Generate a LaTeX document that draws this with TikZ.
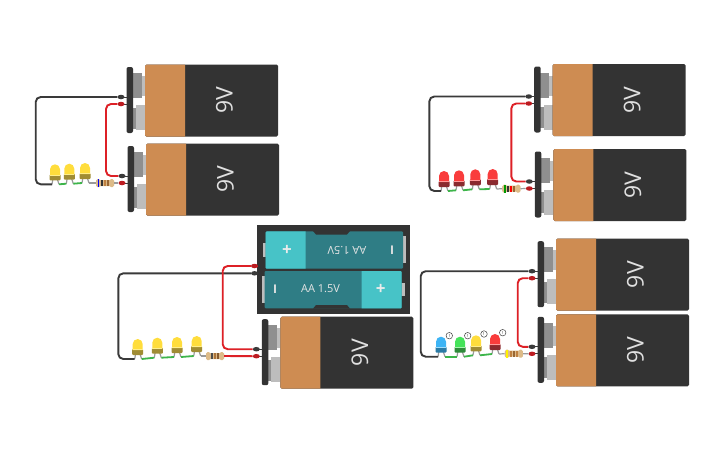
\documentclass[tikz,border=0pt]{standalone}
\usepackage{fontspec}
\setmainfont{Open Sans}
\usetikzlibrary{shapes.geometric}
\definecolor{batdark}{HTML}{333333}
\definecolor{batorange}{HTML}{CE8C52}
\definecolor{termdark}{HTML}{8F8F8F}
\definecolor{termlight}{HTML}{BDBDBD}
\definecolor{wireblack}{HTML}{3A3A3A}
\definecolor{wirered}{HTML}{DD2026}
\definecolor{wiregreen}{HTML}{3DB54A}
\definecolor{tealdark}{HTML}{2F7D85}
\definecolor{teallight}{HTML}{47C3C7}
\definecolor{restan}{HTML}{DDBB88}
\definecolor{legc}{HTML}{9A9A9A}
\definecolor{ylw}{HTML}{FFDD3C}
\definecolor{ylwh}{HTML}{FFEE8A}
\definecolor{ylwb}{HTML}{A08C34}
\definecolor{rd}{HTML}{F93C3C}
\definecolor{rdh}{HTML}{FF9A9A}
\definecolor{rdb}{HTML}{8A2A2F}
\definecolor{blu}{HTML}{3DB4F5}
\definecolor{bluh}{HTML}{A0DDFA}
\definecolor{blub}{HTML}{2A7BA5}
\definecolor{grn}{HTML}{45E35A}
\definecolor{grnh}{HTML}{A5F5AF}
\definecolor{grnb}{HTML}{2E8B3A}
\tikzset{
  wb/.style={draw=wireblack,line width=1.9pt,rounded corners=5pt},
  wr/.style={draw=wirered,line width=1.9pt,rounded corners=5pt},
  wg/.style={draw=wiregreen,line width=1.8pt},
  lead/.style={draw=legc,line width=1.2pt},
  pin/.style={ellipse,inner sep=0pt,minimum width=7pt,minimum height=4.5pt},
  nine/.style={rotate=90,text=white!88!black,font=\fontsize{23}{23}\selectfont,inner sep=0pt},
  aa/.style={text=white!90!black,font=\fontsize{11}{11}\selectfont,inner sep=0pt},
  bar/.style={text=white!90!black,font=\bfseries\fontsize{12}{12}\selectfont,inner sep=0pt},
  sgn/.style={text=white!92!black,font=\bfseries\fontsize{17}{17}\selectfont,inner sep=0pt},
  info/.style={circle,draw=black!75,fill=white,line width=0.5pt,minimum size=6.5pt,inner sep=0pt,font=\fontsize{4}{4}\selectfont},
  resb/.style={rectangle,rounded corners=1pt,fill=restan,minimum width=18pt,minimum height=6pt,inner sep=0pt}
}
% name, x, y of body's top-left
\newcommand{\nvbat}[3]{%
 \begin{scope}[shift={(#2,#3)}]
  \fill[termdark] (-13,8.5) rectangle (-3.5,33.5);
  \fill[termlight] (-3.5,11.5) rectangle (0,31.5);
  \fill[termdark] (-13,43) rectangle (-8,64);
  \fill[termlight] (-9,40.5) rectangle (0,65.5);
  \fill[batdark,rounded corners=1.5pt] (0,0) rectangle (133,72);
  \begin{scope}
   \clip (0,0) rectangle (40,72);
   \fill[batorange,rounded corners=1.5pt] (0,0) rectangle (133,72);
  \end{scope}
  \fill[batdark,rounded corners=2pt] (-18.5,2.5) rectangle (-12,68.5);
  \node[nine] (#1t) at (79.5,36) {9V};
  \draw[wireblack,line width=1pt] (-24,32.5) -- (-18,32.5);
  \draw[wireblack,line width=1pt] (-24,39.5) -- (-18,39.5);
  \node[pin,fill=wireblack] (#1n) at (-24,32.5) {};
  \node[pin,fill=wirered!85!black] (#1p) at (-24,39.5) {};
 \end{scope}}
% name, cx, top, dome colour, highlight, base colour
\newcommand{\ledm}[6]{%
 \begin{scope}[shift={(#2,#3)}]
  \coordinate (#1a) at (-3,20);
  \coordinate (#1c) at (4,20);
  \draw[lead] (-2,14) -- (#1a);
  \draw[lead] (2,14) -- (#1c);
  \fill[#6,rounded corners=1pt] (-5.5,10) rectangle (5.5,16);
  \fill[#4] (-5,11) -- (-5,5) arc[start angle=180,end angle=360,radius=5] -- (5,11) -- cycle;
  \fill[#5] (-5,10.2) rectangle (5,11.2);
 \end{scope}}
% name, cx, cy, four bands
\newcommand{\resm}[7]{%
 \begin{scope}[shift={(#2,#3)}]
  \node[resb] (#1) at (0,0) {};
  \fill[restan,rounded corners=1.5pt] (-9,-4) rectangle (-4.5,4);
  \fill[restan,rounded corners=1.5pt] (4.5,-4) rectangle (9,4);
  \fill[#4] (-7.5,-4) rectangle (-5.7,4);
  \fill[#5] (-4,-3) rectangle (-2.3,3);
  \fill[#6] (-1,-3) rectangle (0.7,3);
  \fill[#7] (2,-3) rectangle (3.7,3);
 \end{scope}}
\begin{document}
\begin{tikzpicture}[x=1pt,y=-1pt]
\useasboundingbox (0,0) rectangle (725,453);
\fill[white] (0,0) rectangle (725,453);
% batteries
\nvbat{A}{145}{64.5}
\nvbat{B}{146}{143.5}
\nvbat{C}{552.7}{64}
\nvbat{D}{553.3}{149}
\nvbat{E}{280.3}{316.7}
\nvbat{F}{556}{238.7}
\nvbat{G}{556}{314.3}
% AA holder
\fill[batdark] (257.3,225.3) rectangle (410.3,313.7);
\fill[termlight] (262.7,242.7) rectangle (266,257.3);
\fill[termlight] (402.5,236) rectangle (405.7,263);
\fill[termlight] (262.3,276) rectangle (265.5,303);
\fill[termlight] (401,283) rectangle (405,296);
\fill[tealdark,rounded corners=1pt] (265.7,231.3) rectangle (403,268.7);
\begin{scope}
 \clip (265.7,231.3) rectangle (305.7,268.7);
 \fill[teallight,rounded corners=1pt] (265.7,231.3) rectangle (403,268.7);
\end{scope}
\fill[tealdark,rounded corners=1pt] (264.7,271) rectangle (401.7,308.3);
\begin{scope}
 \clip (361.7,271) rectangle (401.7,308.3);
 \fill[teallight,rounded corners=1pt] (264.7,271) rectangle (401.7,308.3);
\end{scope}
\fill[batdark] (313,231) -- (316,234.5) -- (347,234.5) -- (350,231) -- cycle;
\fill[batdark] (313,308.6) -- (316,305) -- (347,305) -- (350,308.6) -- cycle;
\node[aa,rotate=180] (aa1) at (347,250.7) {AA 1.5V};
\node[aa] (aa2) at (320.5,289) {AA 1.5V};
\node[sgn] (p1) at (287,250) {+};
\node[sgn] (p2) at (380.7,289) {+};
\node[bar] (m1) at (392,250) {I};
\node[bar] (m2) at (275,289) {I};
\draw[wireblack,line width=1pt] (254,273.3) -- (258,273.3);
\draw[wirered,line width=1pt] (254,266) -- (258,266);
\node[pin,fill=wireblack] (Hn) at (254.5,273.3) {};
\node[pin,fill=wirered!85!black] (Hp) at (254.5,266) {};
% bend guides
\coordinate (k1) at (35.7,0);
\coordinate (r1) at (106,0);
\coordinate (k2) at (429.3,0);
\coordinate (r2) at (511.3,0);
\coordinate (k3) at (118.3,0);
\coordinate (r3) at (222.7,0);
\coordinate (k4) at (420.7,0);
\coordinate (r4) at (517.7,0);
% LEDs
\ledm{La}{55}{164.3}{ylw}{ylwh}{ylwb}
\ledm{Lb}{69.3}{163.7}{ylw}{ylwh}{ylwb}
\ledm{Lc}{85}{163}{ylw}{ylwh}{ylwb}
\ledm{Ma}{444}{171}{rd}{rdh}{rdb}
\ledm{Mb}{459}{170.3}{rd}{rdh}{rdb}
\ledm{Mc}{475.3}{169.3}{rd}{rdh}{rdb}
\ledm{Md}{492.7}{169}{rd}{rdh}{rdb}
\ledm{Na}{137.7}{339}{ylw}{ylwh}{ylwb}
\ledm{Nb}{157.3}{337.7}{ylw}{ylwh}{ylwb}
\ledm{Nc}{177}{337}{ylw}{ylwh}{ylwb}
\ledm{Nd}{196.7}{336}{ylw}{ylwh}{ylwb}
\ledm{Pa}{441}{336.7}{blu}{bluh}{blub}
\ledm{Pb}{460}{336.7}{grn}{grnh}{grnb}
\ledm{Pc}{476}{335.3}{ylw}{ylwh}{ylwb}
\ledm{Pd}{495}{334}{rd}{rdh}{rdb}
\node[info] (ia) at (449.3,335.7) {!};
\node[info] (ib) at (467.7,335.7) {!};
\node[info] (ic) at (484,334) {!};
\node[info] (id) at (502.7,332.7) {!};
% resistors
\resm{Ra}{105}{183}{blue}{black!80}{brown}{brown!80!black}
\resm{Rb}{511.3}{188.7}{green!60!black}{black!80}{red}{brown!80!black}
\resm{Rc}{215}{356}{restan}{black!70}{brown!90!black}{brown!70!black}
\resm{Rd}{513.8}{353.7}{yellow}{brown}{brown!80!black}{brown}
% wires: circuit 1
\draw[wb] (An.west) -- (An.west -| k1) -- (Laa -| k1) -- (Laa);
\draw[wr] (Ap.west) -- (Ap.west -| r1) -- (Bn.west -| r1) -- (Bn.west);
\draw[wg] (Lac) -- (Lba);
\draw[wg] (Lbc) -- (Lca);
\draw[lead] (Lcc) -- (Ra.west);
\draw[lead] (Ra.east) -- (Bp.west);
% circuit 2
\draw[wb] (Cn.west) -- (Cn.west -| k2) -- (Maa -| k2) -- (Maa);
\draw[wr] (Cp.west) -- (Cp.west -| r2) -- (Dn.west -| r2) -- (Dn.west);
\draw[wg] (Mac) -- (Mba);
\draw[wg] (Mbc) -- (Mca);
\draw[wg] (Mcc) -- (Mda);
\draw[lead] (Mdc) -- (Rb.west);
\draw[lead] (Rb.east) -- (Dp.west);
% circuit 3
\draw[wb] (Hn.west) -- (Hn.west -| k3) -- (Naa -| k3) -- (Naa);
\draw[wr] (Hp.west) -- (Hp.west -| r3) -- (En.west -| r3) -- (En.west);
\draw[wg] (Nac) -- (Nba);
\draw[wg] (Nbc) -- (Nca);
\draw[wg] (Ncc) -- (Nda);
\draw[lead] (Ndc) -- (Rc.west);
\draw[wr] (Rc.east) -- (Ep.west);
% circuit 4
\draw[wb] (Fn.west) -- (Fn.west -| k4) -- (Paa -| k4) -- (Paa);
\draw[wr] (Fp.west) -- (Fp.west -| r4) -- (Gn.west -| r4) -- (Gn.west);
\draw[wg] (Pac) -- (Pba);
\draw[wg] (Pbc) -- (Pca);
\draw[wg] (Pcc) -- (Pda);
\draw[lead] (Pdc) -- (Rd.west);
\draw[lead] (Rd.east) -- (Gp.west);
\end{tikzpicture}
\end{document}
